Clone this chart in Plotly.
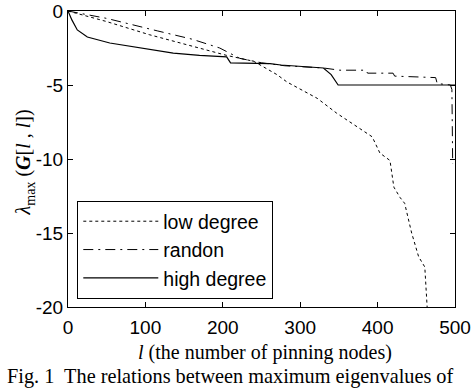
import plotly.graph_objects as go

# ---- data ----
low_x = [0, 49, 105, 161, 205, 240, 270, 283, 322, 347, 370, 393, 403, 416, 421, 429, 435, 444, 453, 461, 464]
low_y = [0, -0.7, -1.6, -2.4, -3.0, -3.4, -4.3, -4.8, -5.9, -6.9, -7.7, -8.5, -9.6, -10.1, -11.9, -12.6, -13.0, -15.0, -16.6, -17.3, -20]

rand_x = [0, 50, 116, 160, 196, 222, 250, 280, 330, 351, 385, 387, 420, 422, 475, 477, 494, 496, 497]
rand_y = [0, -0.5, -1.35, -1.9, -2.5, -3.2, -3.5, -3.7, -3.85, -4.0, -4.0, -4.2, -4.2, -4.4, -4.5, -4.9, -5.0, -5.3, -10.3]

high_x = [0, 5, 12, 25, 54, 97, 136, 170, 205, 210, 261, 275, 330, 340, 349, 500]
high_y = [0, -0.6, -1.28, -1.76, -2.16, -2.5, -2.84, -3.0, -3.1, -3.5, -3.55, -3.65, -3.85, -4.3, -5.0, -5.0]

x_ticks = [0, 100, 200, 300, 400, 500]
y_ticks = [0, -5, -10, -15, -20]
y_tick_labels = ["0", "-5", "-10", "-15", "-20"]

fig = go.Figure()
fig.add_trace(go.Scatter(x=low_x, y=low_y, mode="lines", name="low degree",
                         line=dict(color="black", width=1, dash="3px,3px")))
fig.add_trace(go.Scatter(x=rand_x, y=rand_y, mode="lines", name="randon",
                         line=dict(color="black", width=1, dash="10px,5px,2px,5px")))
fig.add_trace(go.Scatter(x=high_x, y=high_y, mode="lines", name="high degree",
                         line=dict(color="black", width=1.2)))

axis_common = dict(showgrid=False, zeroline=False, showline=True, linecolor="black",
                   linewidth=1, mirror="ticks", ticks="inside", ticklen=5,
                   tickcolor="black", automargin=False, ticklabeloverflow="allow",
                   tickfont=dict(family="Liberation Sans, Arial", size=19, color="black"))

fig.update_xaxes(range=[0, 500], tickvals=x_ticks, ticklabelstandoff=3, **axis_common)
fig.update_yaxes(range=[-20, 0], tickvals=y_ticks, ticktext=y_tick_labels, **axis_common)

fig.update_layout(
    width=474, height=388,
    margin=dict(l=68, r=19, t=11, b=81),
    paper_bgcolor="white", plot_bgcolor="white",
    showlegend=True,
    legend=dict(x=0.024, y=0.358, xanchor="left", yanchor="top",
                bordercolor="black", borderwidth=1, bgcolor="white",
                font=dict(family="Liberation Sans, Arial", size=19.5, color="black"),
                itemwidth=75, tracegroupgap=0),
    annotations=[
        dict(xref="paper", yref="paper", x=-0.11, y=0.49, showarrow=False,
             textangle=-90, xanchor="center", yanchor="middle",
             text="<i>λ</i><sub>max</sub> (<b><i>G</i></b>[<i>l</i> , <i>l</i>])",
             font=dict(family="Liberation Serif, Times New Roman", size=20, color="black")),
        dict(xref="paper", yref="paper", x=0.51, y=-0.155, showarrow=False,
             xanchor="center", yanchor="middle",
             text="<i>l</i> (the number of pinning nodes)",
             font=dict(family="Liberation Serif, Times New Roman", size=20, color="black")),
        dict(xref="paper", yref="paper", x=-0.163, y=-0.236, showarrow=False,
             xanchor="left", yanchor="middle",
             text="Fig. 1  The relations between maximum eigenvalues of",
             font=dict(family="Liberation Serif, Times New Roman", size=20.3, color="black")),
    ],
)

# remove the default 8px page margin so the figure fills the window
fig.write_html("out.html",
               config={"displayModeBar": False},
               post_script="document.body.style.margin='0';document.body.style.padding='0';")
